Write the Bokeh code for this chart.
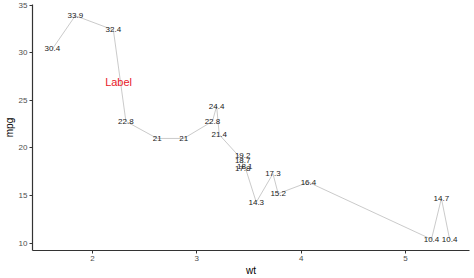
from bokeh.plotting import figure
from bokeh.models import ColumnDataSource, Range1d, FixedTicker
from bokeh.core.properties import value
from bokeh.embed import file_html
from bokeh.resources import INLINE

wt = [2.62, 2.875, 2.32, 3.215, 3.44, 3.46, 3.57, 3.19, 3.15, 3.44,
      3.44, 4.07, 3.73, 3.78, 5.25, 5.424, 5.345, 2.2, 1.615, 1.835]
mpg = [21, 21, 22.8, 21.4, 18.7, 18.1, 14.3, 24.4, 22.8, 19.2,
       17.8, 16.4, 17.3, 15.2, 10.4, 10.4, 14.7, 32.4, 30.4, 33.9]
labels = [("%g" % v) for v in mpg]
x_ticks = [2, 3, 4, 5]
y_ticks = [10, 15, 20, 25, 30, 35]
annot_x = [2.25]
annot_y = [26.9]
annot_text = ["Label"]

order = sorted(range(len(wt)), key=lambda i: wt[i])
line_src = ColumnDataSource(dict(x=[wt[i] for i in order], y=[mpg[i] for i in order]))
txt_src = ColumnDataSource(dict(x=wt, y=mpg, t=labels))

p = figure(width=474, height=278, output_backend="svg", toolbar_location=None,
           x_range=Range1d(1.4246, 5.6145), y_range=Range1d(9.225, 35.075),
           min_border_left=10, min_border_right=5, min_border_top=4, min_border_bottom=10)
p.background_fill_color = "white"
p.border_fill_color = "white"
p.outline_line_color = None
p.xgrid.visible = False
p.ygrid.visible = False

p.line("x", "y", source=line_src, line_color="#bdbdbd", line_width=0.8)
p.text("x", "y", text="t", source=txt_src, text_align="center", text_baseline="middle",
       text_font_size="8px", text_color="#1a1a1a", text_font=value("Liberation Sans"))
p.text(annot_x, annot_y, text=annot_text, text_align="center", text_baseline="middle",
       text_font_size="11px", text_color="#e8202a", text_font=value("Liberation Sans"))

for ax in (p.xaxis[0], p.yaxis[0]):
    ax.axis_line_color = "#333333"
    ax.axis_line_width = 1.2
    ax.major_tick_line_color = "#333333"
    ax.major_tick_out = 3
    ax.major_tick_in = 0
    ax.minor_tick_line_color = None
    ax.major_label_text_font_size = "8px"
    ax.major_label_text_color = "#4d4d4d"
    ax.major_label_text_font = "Liberation Sans"
    ax.axis_label_text_font_size = "10px"
    ax.axis_label_text_font_style = "normal"
    ax.axis_label_text_color = "black"
    ax.axis_label_text_font = "Liberation Sans"
    ax.major_label_standoff = 2
    ax.axis_label_standoff = 1

p.xaxis.ticker = FixedTicker(ticks=x_ticks)
p.yaxis.ticker = FixedTicker(ticks=y_ticks)
p.xaxis.axis_label = "wt"
p.yaxis.axis_label = "mpg"

open("out.html", "w").write(file_html(p, INLINE))
